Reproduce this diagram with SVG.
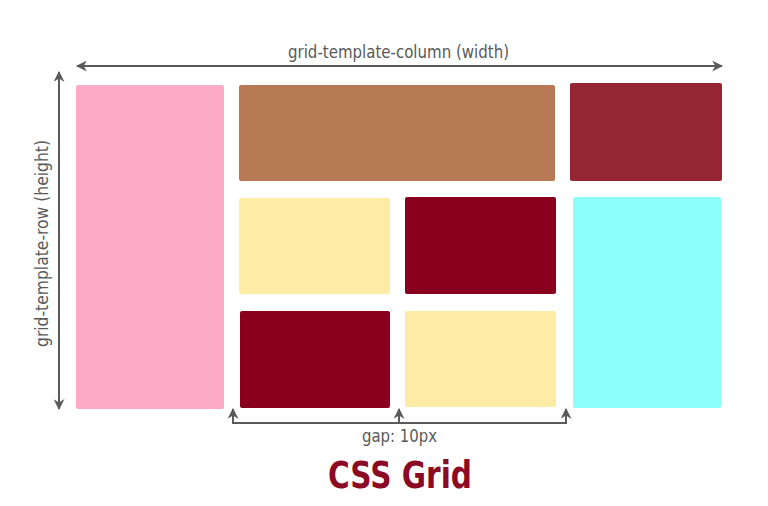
<svg xmlns="http://www.w3.org/2000/svg" width="768" height="506" viewBox="0 0 768 506">
<defs>
<style>
.lbl{font-family:"DejaVu Sans Condensed","DejaVu Sans","Liberation Sans",sans-serif;font-stretch:condensed;fill:#595959;font-weight:500;}
.ln{stroke:#5a5a5a;stroke-width:2;fill:none;}
</style>
<marker id="ah" viewBox="0 0 10 10" refX="9" refY="5" markerWidth="5.5" markerHeight="5.5" orient="auto-start-reverse" markerUnits="strokeWidth">
<path d="M0,0 L10,5 L0,10 L3,5 Z" fill="#5a5a5a"/>
</marker>
</defs>
<rect width="768" height="506" fill="#ffffff"/>
<g id="cell-pink"><rect x="76" y="85" width="148" height="324" rx="2" fill="#fdaac6"/></g>
<g id="cell-brown"><rect x="239" y="85" width="316" height="96" rx="2" fill="#b87a55"/></g>
<g id="cell-darkred"><rect x="570" y="83" width="152" height="98" rx="2" fill="#962533"/></g>
<g id="cell-yellow1"><rect x="239" y="198" width="151" height="96" rx="2" fill="#feeba6"/></g>
<g id="cell-maroon1"><rect x="405" y="197" width="151" height="97" rx="2" fill="#89001e"/></g>
<g id="cell-cyan"><rect x="573" y="197" width="148" height="211" rx="2" fill="#8bfff9"/></g>
<g id="cell-maroon2"><rect x="240" y="311" width="150" height="97" rx="2" fill="#89001e"/></g>
<g id="cell-yellow2"><rect x="405" y="311" width="151" height="96" rx="2" fill="#feeba6"/></g>
<g id="connectors">
<line class="ln" x1="77" y1="66" x2="722" y2="66" marker-start="url(#ah)" marker-end="url(#ah)"/>
<line class="ln" x1="59" y1="72" x2="59" y2="409" marker-start="url(#ah)" marker-end="url(#ah)"/>
<path class="ln" d="M233,409 L233,423 L566,423 L566,409" marker-start="url(#ah)" marker-end="url(#ah)"/>
<line class="ln" x1="399" y1="423" x2="399" y2="409" marker-end="url(#ah)"/>
</g>
<g id="labels">
<text class="lbl" x="398.5" y="58" font-size="18" text-anchor="middle" textLength="221" lengthAdjust="spacingAndGlyphs">grid-template-column (width)</text>
<text class="lbl" transform="translate(48,243.5) rotate(-90)" x="0" y="0" font-size="18" text-anchor="middle" textLength="207" lengthAdjust="spacingAndGlyphs">grid-template-row (height)</text>
<text class="lbl" x="399.5" y="442" font-size="18" text-anchor="middle" textLength="75" lengthAdjust="spacingAndGlyphs">gap: 10px</text>
<text x="400" y="488" font-size="37" font-weight="bold" text-anchor="middle" textLength="144" lengthAdjust="spacingAndGlyphs" style="font-family:'DejaVu Sans Condensed','DejaVu Sans','Liberation Sans',sans-serif;font-stretch:condensed;fill:#8b0a24">CSS Grid</text>
</g>
</svg>
